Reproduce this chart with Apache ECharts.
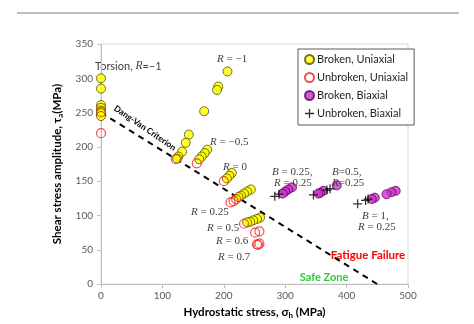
<!DOCTYPE html>
<html><head><meta charset="utf-8">
<script src="https://cdn.jsdelivr.net/npm/echarts@6/dist/echarts.min.js"></script>
<style>html,body{margin:0;padding:0;background:#fff}#c{width:474px;height:324px}</style>
</head><body><div id="c"></div><script>
// ---- data (MPa) ----
const brokenUniaxial = [
  [0,300],[0,285],[0,261],[0,257],[0,253],[0,249],[0,245],
  [206,310],[191,288],[189,283],[168,252],[143,218],[138,206],[132,193],[126,186],[124,183],
  [173,196],[169,191],[164,186],[160,182],
  [213,162],[209,158],[205,154],
  [244,138],[238,135],[233,132],[228,129],[224,127],
  [259,97],[254,95],[248,93],[243,91],[238,90]
];
const unbrokenUniaxial = [
  [0,251],[0,220],
  [122,182],
  [156,176],
  [200,150],
  [220,124],[216,121],[211,119],
  [233,88],
  [258,77],[251,75],
  [258,59],[254,58],[256,57]
];
const brokenBiaxial = [
  [311,141],[305,138],[300,135],[296,132],
  [384,144],[362,136],[357,133],[354,132],
  [480,136],[473,134],[465,131],[446,126],[441,124]
];
const unbrokenBiaxial = [
  [283,128],[290,131],
  [346,130],[368,137],[373,139],
  [418,117],[431,122],[435,124]
];
const dangVan = [[0,250],[450,0]];
const xTicks = [0,100,200,300,400,500];
const yTicks = [0,50,100,150,200,250,300,350];

const chart = echarts.init(document.getElementById('c'), null, {renderer:'canvas'});
const sans = 'Lato';
const serif = 'Liberation Serif';
const plus = 'path://M0,4.3 L10,4.3 L10,5.7 L0,5.7 Z M4.3,0 L5.7,0 L5.7,10 L4.3,10 Z';
const ann = (x, y, text, extra) => Object.assign({
  type:'text', x, y, silent:true, z:50,
  style: Object.assign({text, fill:'#404040', fontSize:11, fontFamily:serif,
    align:'left', verticalAlign:'middle',
    rich:{i:{fontStyle:'italic', fontFamily:serif, fontSize:11, fill:'#404040'}}}, extra||{})
});

chart.setOption({
  animation:false,
  backgroundColor:'#fff',
  grid:{left:101, right:66, top:44, bottom:32, show:true, borderColor:'#D9D9D9', borderWidth:1},
  xAxis:{type:'value', min:0, max:500, interval:100,
    axisLine:{show:true, lineStyle:{color:'#BFBFBF', width:1}},
    axisTick:{show:true, length:4, lineStyle:{color:'#BFBFBF'}},
    splitLine:{show:false},
    axisLabel:{color:'#595959', fontFamily:sans, fontSize:10, margin:7,
      formatter:v => xTicks.includes(v) ? String(v) : ''},
    name:'Hydrostatic stress, σ{s|h} (MPa)', nameLocation:'middle', nameGap:19,
    nameTextStyle:{color:'#000', fontFamily:sans, fontWeight:'bold', fontSize:11.5,
      rich:{s:{fontSize:8, fontWeight:'bold', fontFamily:sans, padding:[6,0,0,0]}}}
  },
  yAxis:{type:'value', min:0, max:350, interval:50,
    axisLine:{show:true, lineStyle:{color:'#BFBFBF', width:1}},
    axisTick:{show:true, length:4, lineStyle:{color:'#BFBFBF'}},
    splitLine:{show:false},
    axisLabel:{color:'#595959', fontFamily:sans, fontSize:10, margin:8,
      formatter:v => yTicks.includes(v) ? String(v) : ''},
    name:'Shear stress amplitude, τ{s|a}(MPa)', nameLocation:'middle', nameGap:30,
    nameTextStyle:{color:'#000', fontFamily:sans, fontWeight:'bold', fontSize:11.5,
      rich:{s:{fontSize:8, fontWeight:'bold', fontFamily:sans, padding:[6,0,0,0]}}}
  },
  legend:{
    orient:'vertical', left:298, top:49, width:106,
    data:['Broken, Uniaxial','Unbroken, Uniaxial','Broken, Biaxial','Unbroken, Biaxial'],
    backgroundColor:'#fff', borderColor:'#595959', borderWidth:1, borderRadius:0,
    padding:[5,6,6,6], itemGap:7, itemWidth:9, itemHeight:9,
    textStyle:{color:'#262626', fontFamily:sans, fontSize:11, padding:[0,0,0,-2]}
  },
  series:[
    {name:'Dang-Van', type:'line', data:dangVan, symbol:'none', silent:true,
      lineStyle:{color:'#000', width:2, type:[6,5]}, z:1},
    {name:'Broken, Uniaxial', type:'scatter', data:brokenUniaxial, symbol:'circle', symbolSize:9,
      itemStyle:{color:'#FFFF00', borderColor:'#4d4d00', borderWidth:1}, z:2},
    {name:'Unbroken, Uniaxial', type:'scatter', data:unbrokenUniaxial, symbol:'circle', symbolSize:9,
      itemStyle:{color:'rgba(255,255,255,0)', borderColor:'#F02020', borderWidth:1.2}, z:3},
    {name:'Broken, Biaxial', type:'scatter', data:brokenBiaxial, symbol:'circle', symbolSize:9,
      itemStyle:{color:'#CC33CC', borderColor:'#5a005a', borderWidth:1}, z:4},
    {name:'Unbroken, Biaxial', type:'scatter', data:unbrokenBiaxial, symbol:plus, symbolSize:9,
      itemStyle:{color:'#000'}, z:5}
  ],
  graphic:[
    {type:'line', silent:true, shape:{x1:17, y1:13, x2:459, y2:13}, style:{stroke:'#A6A6A6', lineWidth:1.5}},
    {type:'text', x:95, y:66, silent:true, style:{text:'Torsion, {i|R}=−1', fill:'#404040', fontSize:11, fontFamily:sans,
      align:'left', verticalAlign:'middle', rich:{i:{fontStyle:'italic', fontFamily:serif, fontSize:11.5, fill:'#404040'}}}},
    ann(217,59,'{i|R} = −1'),
    ann(210,142,'{i|R} = −0.5'),
    ann(223,167,'{i|R} = 0'),
    ann(191,212,'{i|R} = 0.25'),
    ann(207,228,'{i|R} = 0.5'),
    ann(216,241,'{i|R} = 0.6'),
    ann(218,257,'{i|R} = 0.7'),
    ann(272,172,'{i|B} = 0.25,'),
    ann(274,183,'{i|R} = 0.25'),
    ann(332,172,'{i|B}=0.5,'),
    ann(332,183,'{i|R}=0.25'),
    ann(362,216,'{i|B} = 1,'),
    ann(358,227,'{i|R} = 0.25'),
    {type:'text', x:145, y:128, rotation:-0.6, silent:true, z:50,
      style:{text:'Dang-Van Criterion', fill:'#000', fontSize:8.5, fontWeight:'bold', fontFamily:sans, align:'center', verticalAlign:'middle'}},
    {type:'text', x:368, y:255, silent:true, z:50,
      style:{text:'Fatigue Failure', fill:'#FF0000', fontSize:11.5, fontWeight:'bold', fontFamily:sans, align:'center', verticalAlign:'middle'}},
    {type:'text', x:324, y:277, silent:true, z:50,
      style:{text:'Safe Zone', fill:'#33CC33', fontSize:11, fontWeight:'bold', fontFamily:sans, align:'center', verticalAlign:'middle'}}
  ]
});
</script></body></html>
